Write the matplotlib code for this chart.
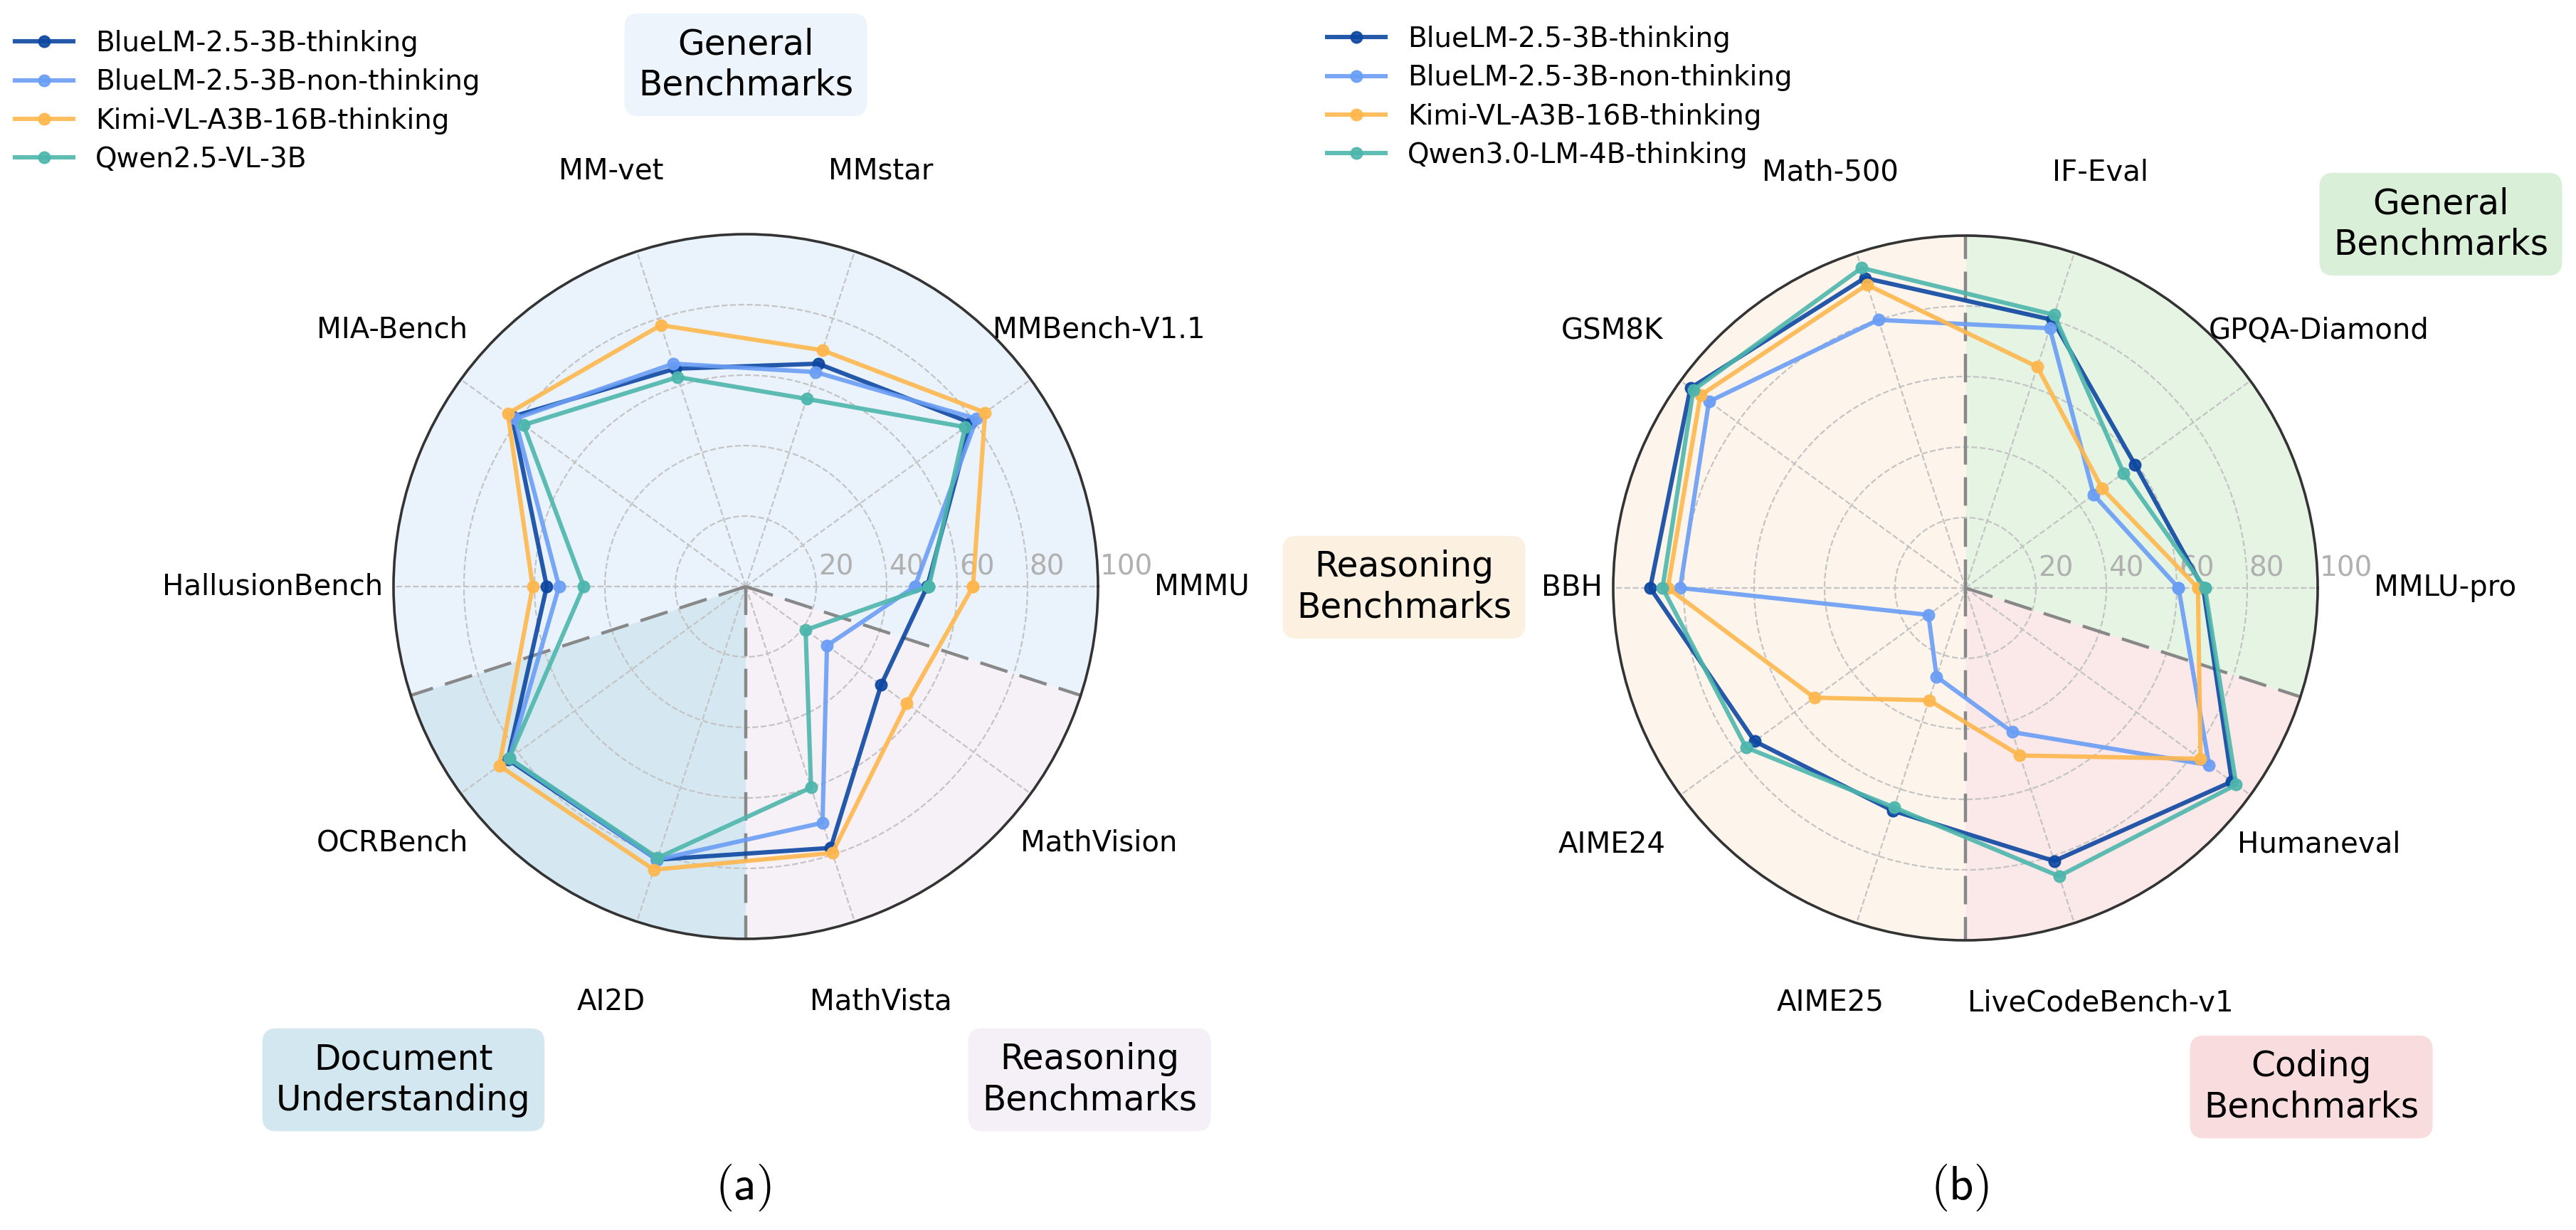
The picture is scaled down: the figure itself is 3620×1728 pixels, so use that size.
import numpy as np
import matplotlib.pyplot as plt
from matplotlib.transforms import offset_copy

plt.rcParams['font.family'] = ['DejaVu Sans']
plt.rcParams['mathtext.fontset'] = 'cm'

# ---- data ----
models_a = ['BlueLM-2.5-3B-thinking', 'BlueLM-2.5-3B-non-thinking',
            'Kimi-VL-A3B-16B-thinking', 'Qwen2.5-VL-3B']
cats_a = ['MMMU', 'MMBench-V1.1', 'MMstar', 'MM-vet', 'MIA-Bench',
          'HallusionBench', 'OCRBench', 'AI2D', 'MathVista', 'MathVision']
blue_think_a = [51.5, 79, 66.5, 65, 82, 56.5, 83.5, 81.5, 78, 47.5]
blue_non_a = [48, 81, 64, 66.5, 81, 53, 83, 81.5, 70.5, 28.5]
kimi_a = [64.5, 84, 70.5, 78, 83.5, 60.5, 86.5, 84.5, 79.5, 56.5]
qwen_a = [52, 77, 56, 62.5, 78, 46, 83, 81, 60, 21]

models_b = ['BlueLM-2.5-3B-thinking', 'BlueLM-2.5-3B-non-thinking',
            'Kimi-VL-A3B-16B-thinking', 'Qwen3.0-LM-4B-thinking']
cats_b = ['MMLU-pro', 'GPQA-Diamond', 'IF-Eval', 'Math-500', 'GSM8K',
          'BBH', 'AIME24', 'AIME25', 'LiveCodeBench-v1', 'Humaneval']
blue_think_b = [67.5, 59.5, 80, 92.5, 96.5, 89.5, 74, 66.5, 81.5, 93.5]
blue_non_b = [60.5, 45, 77.5, 80, 90, 81, 13, 26.5, 43, 85.5]
kimi_b = [66, 48, 66, 90.5, 93, 84.5, 53, 33.5, 50, 82.5]
qwen_b = [68, 55.5, 81.5, 95.5, 95.5, 86, 77, 65.5, 86, 95]

# groups: (name, first index, last index)
groups_a = [('General\nBenchmarks', 0, 5),
            ('Document\nUnderstanding', 6, 7),
            ('Reasoning\nBenchmarks', 8, 9)]
groups_b = [('General\nBenchmarks', 0, 2),
            ('Reasoning\nBenchmarks', 3, 7),
            ('Coding\nBenchmarks', 8, 9)]

rticks = [20, 40, 60, 80, 100]

colors = ['#0d47a1', '#6a9ef5', '#ffb74d', '#4db6ac']
sector_a = ['#eaf3fb', '#d5e8f2', '#f6f1f7']
box_a = ['#edf4fc', '#d3e7f1', '#f5f0f7']
sector_b = ['#e6f4e4', '#fdf5ec', '#fbe8e9']
box_b = ['#d9efd8', '#fcf0e1', '#f9dcdd']


def radar(fig, rect, cats, series, models, groups, sect_cols):
    ax = fig.add_axes(rect, projection='polar')
    n = len(cats)
    step = 2 * np.pi / n
    ang = np.arange(n) * step
    ax.set_ylim(0, 100)
    ax.set_xticks(ang)
    ax.set_xticklabels([])
    ax.set_yticks(rticks[:-1])
    ax.set_yticklabels([])
    ax.grid(True, ls='--', color='#c4c4c4', lw=0.8)
    ax.spines['polar'].set_color('#333333')
    ax.spines['polar'].set_linewidth(1.3)

    # coloured sectors + dashed separators
    for (name, i0, i1), c in zip(groups, sect_cols):
        th = np.linspace((i0 - 0.5) * step, (i1 + 0.5) * step, 200)
        ax.fill_between(th, 0, 100, color=c, lw=0, zorder=0.5)
        b = (i1 + 0.5) * step
        ax.plot([b, b], [0, 100], color='#888888', lw=1.6,
                ls=(0, (9, 4)), zorder=1.8)

    # radial tick labels
    tr = offset_copy(ax.transData, fig=fig, x=1, y=3, units='points')
    for r in rticks:
        ax.text(0, r, str(r), transform=tr, ha='left', va='bottom',
                color='#b0b0b0', fontsize=14, zorder=2)

    # category labels
    for a, lab in zip(ang, cats):
        c = np.cos(a)
        if c > 0.99:
            ax.text(a, 116, lab, ha='left', va='center', fontsize=14.5)
        elif c < -0.99:
            ax.text(a, 103, lab, ha='right', va='center', fontsize=14.5)
        else:
            ax.text(a, 124, lab, ha='center', va='center', fontsize=14.5)

    closed = np.append(ang, ang[0])
    for vals, col, lab in zip(series, colors, models):
        v = np.append(vals, vals[0])
        ax.plot(closed, v, color=col, lw=2.2, marker='o', ms=5.5,
                alpha=0.9, label=lab, zorder=3)
    return ax


fig = plt.figure(figsize=(18.1, 8.64), dpi=200)
W, H = 3620, 1728
R = 495


def rect_for(cx, cy):
    return [(cx - R) / W, 1 - (cy + R) / H, 2 * R / W, 2 * R / H]


ax_a = radar(fig, rect_for(1048, 824), cats_a,
             [blue_think_a, blue_non_a, kimi_a, qwen_a], models_a,
             groups_a, sector_a)
ax_b = radar(fig, rect_for(2762, 826), cats_b,
             [blue_think_b, blue_non_b, kimi_b, qwen_b], models_b,
             groups_b, sector_b)

leg_kw = dict(loc='upper left', frameon=False, fontsize=14, borderpad=0,
              borderaxespad=0, handlelength=2.1, handletextpad=0.8,
              labelspacing=0.42)
h, l = ax_a.get_legend_handles_labels()
fig.legend(h, l, bbox_to_anchor=(21 / W, 1 - 42 / H), **leg_kw)
h, l = ax_b.get_legend_handles_labels()
fig.legend(h, l, bbox_to_anchor=(1865 / W, 1 - 36 / H), **leg_kw)

# group boxes
box_pos_a = [(1048, 91), (567, 1517), (1531, 1517)]
box_pos_b = [(3430, 315), (1973, 825), (3248, 1527)]
for (name, _, _), (x, y), c in zip(groups_a, box_pos_a, box_a):
    fig.text(x / W, 1 - y / H, name, ha='center', va='center', fontsize=17.5,
             linespacing=1.25,
             bbox=dict(boxstyle='round,pad=0.4', fc=c, ec='none'))
for (name, _, _), (x, y), c in zip(groups_b, box_pos_b, box_b):
    fig.text(x / W, 1 - y / H, name, ha='center', va='center', fontsize=17.5,
             linespacing=1.25,
             bbox=dict(boxstyle='round,pad=0.4', fc=c, ec='none'))

fig.text(1045 / W, 1 - 1668 / H, r'$\mathsf{(a)}$', ha='center',
         va='center', fontsize=24)
fig.text(2754 / W, 1 - 1668 / H, r'$\mathsf{(b)}$', ha='center',
         va='center', fontsize=24)

fig.savefig('out.png', dpi=200, facecolor='white')
